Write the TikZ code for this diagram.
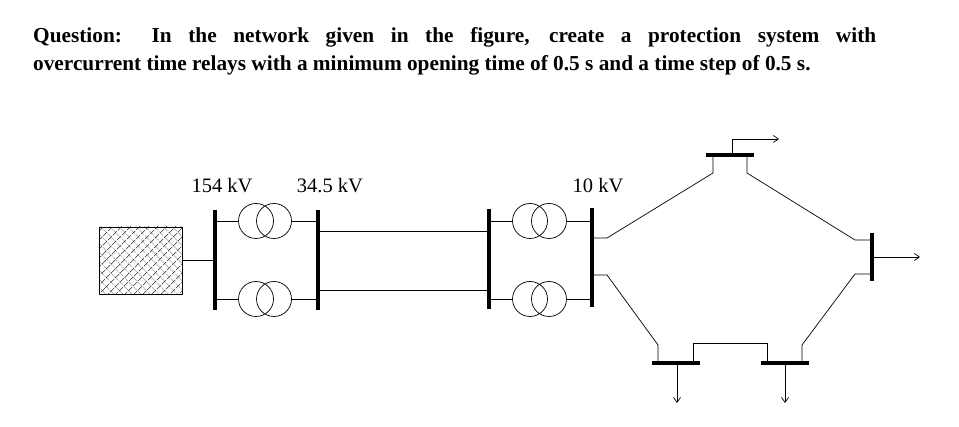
\documentclass[tikz,border=0pt]{standalone}
\usepackage{fontspec}
\setmainfont{Liberation Serif}
\usetikzlibrary{patterns.meta,arrows.meta}
\begin{document}
\begin{tikzpicture}[x=1pt,y=-1pt,
  bus/.style={line width=4pt},
  ln/.style={line width=0.7pt},
  trafo/.style={line width=0.7pt},
  load/.style={line width=0.7pt,-{Straight Barb[length=5pt,width=7pt]}},
  lbl/.style={font=\fontsize{20.5}{22}\selectfont,inner sep=0pt}]
\useasboundingbox (0,0) rectangle (959,427);
\node[anchor=north west,inner sep=0pt,align=justify,text width=843pt,font=\fontsize{21.3}{28}\selectfont\bfseries] (title) at (33,27)
{Question: In the network given in the figure, create a protection system with\linebreak overcurrent time relays with a minimum opening time of 0.5 s and a time step of 0.5 s.};
% generator
\fill[pattern={Lines[angle=45,distance=6.5pt,line width=0.4pt]}] (99,227) rectangle (182,294);
\fill[pattern={Lines[angle=-45,distance=6.5pt,line width=0.4pt]}] (99,227) rectangle (182,294);
\draw[ln] (99,227) rectangle (182,294);
\coordinate (gen) at (182,260);
% buses
\draw[bus] (215,210) -- (215,310);
\draw[bus] (318,210) -- (318,310);
\draw[bus] (489,209) -- (489,309);
\draw[bus] (592,208) -- (592,307);
\draw[ln] (gen) -- (215,260);
\node[lbl] (l154) at (222,186) {154 kV};
\node[lbl] (l345) at (330,186) {34.5 kV};
\node[lbl] (l10) at (598,186) {10 kV};
% transformers
\foreach \y in {221,299}{
  \draw[trafo] (256,\y) circle (17.5) (274,\y) circle (17.5);
  \draw[ln] (215,\y) -- (238.5,\y) (291.5,\y) -- (318,\y);
  \draw[trafo] (530,\y) circle (17.5) (549,\y) circle (17.5);
  \draw[ln] (489,\y) -- (512.5,\y) (566.5,\y) -- (592,\y);
}
\draw[ln] (318,231) -- (489,231) (318,290) -- (489,290);
% ring buses
\draw[bus] (706,155) -- (754,155);
\draw[bus] (872,233) -- (872,281);
\draw[bus] (652,363) -- (700,363);
\draw[bus] (761,363) -- (809,363);
% ring lines
\draw[ln] (592,238) -- (607,238) -- (713,173) -- (713,155);
\draw[ln] (747,155) -- (747,173) -- (855,240) -- (872,240);
\draw[ln] (872,274) -- (855,274) -- (802,345) -- (802,363);
\draw[ln] (592,275) -- (607,275) -- (658,345) -- (658,363);
\draw[ln] (693,363) -- (693,343) -- (767,343) -- (767,363);
% loads
\draw[load] (732,155) -- (732,139) -- (779,139);
\draw[load] (872,257) -- (920,257);
\draw[load] (677,363) -- (677,403);
\draw[load] (785,363) -- (785,403);
\end{tikzpicture}
\end{document}
